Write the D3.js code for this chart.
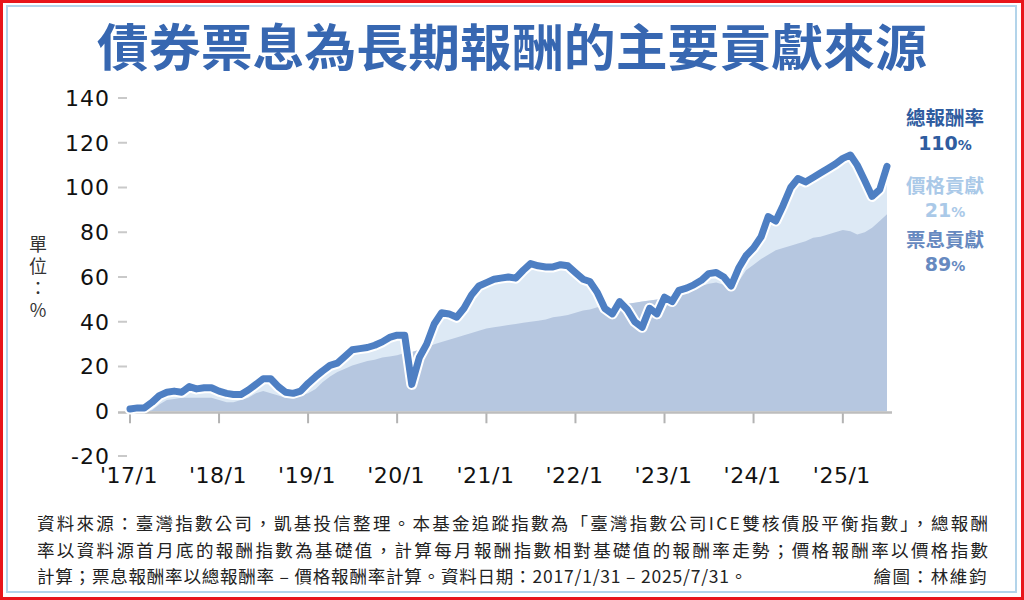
<!DOCTYPE html>
<html><head><meta charset="utf-8">
<script src="https://cdn.jsdelivr.net/npm/d3@7"></script>
<style>
html,body{margin:0;padding:0;background:#fff;}
svg{display:block;}
</style></head>
<body>
<svg id="chart" width="1024" height="600"></svg>
<script>
// ---------- data ----------
const title = "債券票息為長期報酬的主要貢獻來源";
const startYear = 2017, startMonth = 0; // first point: 2017/1
const yTicks = [-20, 0, 20, 40, 60, 80, 100, 120, 140];
const xTickLabels = ["'17/1","'18/1","'19/1","'20/1","'21/1","'22/1","'23/1","'24/1","'25/1"];
const xTickYears = [2017,2018,2019,2020,2021,2022,2023,2024,2025];
// 總報酬率 (%), monthly 2017/1 – 2025/7
const total = [
  1, 1.5, 1.5, 4, 7, 8.5, 9, 8.5, 11, 10, 10.5, 10.5,
  9, 8, 7.5, 7.5, 9.5, 12, 14.5, 14.5, 11, 8.5, 8, 9,
  12.5, 15.5, 18, 20.5, 21.5, 24.5, 27.5, 28, 28.5, 29.5, 31, 33,
  34, 34, 12, 24, 30, 39, 44, 43.5, 42, 46, 52, 56,
  57.5, 59, 59.5, 60, 59.5, 63, 66, 65, 64.5, 64.5, 65.5, 65,
  62, 59, 58, 53, 46, 43.5, 49, 45.5, 40, 37.5, 46, 43.5,
  51, 49, 54, 55, 56.5, 58.5, 61.5, 62, 60, 56, 64, 69.5,
  73, 78, 87, 85, 92, 100, 104, 102.5, 104.5, 106.5, 108.5, 110.5,
  113, 114.5, 110, 103, 96, 99, 109.5
];
// 票息貢獻 (%)
const coupon = [
  0, 0, 0, 0.5, 3, 5, 5.5, 6, 6, 6, 6, 6,
  5, 4, 4, 5, 6, 8, 9, 8, 7, 6, 6, 7,
  8, 10, 13, 15.5, 17.5, 19, 20.5, 21.5, 22.5, 23, 24, 24.5,
  25, 26, 26.5, 27.5, 28.5, 30, 31, 32, 33, 34, 35, 36,
  37, 37.5, 38, 38.5, 39, 39.5, 40, 40.5, 41, 42, 42.5, 43,
  44, 45, 45.5, 46.5, 46.5, 47, 47.5, 48, 48.5, 49, 49.5, 50,
  51, 52, 53, 54, 55, 56, 57, 57.5, 56.5, 55, 58, 63,
  65.5, 68, 70, 72, 73, 74, 75, 76, 77.5, 78, 79, 80,
  81, 80.5, 79, 80, 82, 85, 88
];
const legendItems = [
  {name: "總報酬率", value: "110", color: "#2f5c9f"},
  {name: "價格貢獻", value: "21",  color: "#aac9e8"},
  {name: "票息貢獻", value: "89",  color: "#6689c0"}
];
const unitLabel = "單位：%";
const footerLines = [
  "資料來源：臺灣指數公司，凱基投信整理。本基金追蹤指數為「臺灣指數公司ICE雙核債股平衡指數」，總報酬",
  "率以資料源首月底的報酬指數為基礎值，計算每月報酬指數相對基礎值的報酬率走勢；價格報酬率以價格指數",
  "計算；票息報酬率以總報酬率 – 價格報酬率計算。資料日期：2017/1/31 – 2025/7/31。"
];
const credit = "繪圖：林維鈞";

// ---------- drawing ----------
const svg = d3.select("#chart");
const CJK = "'Noto Sans CJK TC','Noto Sans CJK SC',sans-serif";
const NUM = "'DejaVu Sans',sans-serif";

// frames
svg.append("rect").attr("x",1.5).attr("y",1.5).attr("width",1021).attr("height",597)
  .attr("fill","none").attr("stroke","#e8161b").attr("stroke-width",3);
svg.append("rect").attr("x",7).attr("y",6).attr("width",1009).attr("height",586)
  .attr("fill","none").attr("stroke","#b3d4ea").attr("stroke-width",2);

// title
svg.append("text").attr("x",512).attr("y",66).attr("text-anchor","middle")
  .attr("font-family",CJK).attr("font-weight",700).attr("font-size",50)
  .attr("fill","#3767b1").attr("textLength",830).attr("lengthAdjust","spacingAndGlyphs")
  .text(title);

const data = total.map((t,i)=>({date:new Date(startYear, startMonth+i, 1), total:t, coupon:coupon[i]}));

const x = d3.scaleTime()
  .domain([new Date(startYear,0,1), data[data.length-1].date])
  .range([130, 887]);
const y = d3.scaleLinear().domain([-20,140]).range([456,98]);

// y axis labels and small dashes
const yG = svg.append("g");
yG.selectAll("text").data(yTicks).join("text")
  .attr("x",110).attr("y",d=>y(d)).attr("dy","0.36em").attr("text-anchor","end")
  .attr("font-family",NUM).attr("font-size",22).attr("letter-spacing",1).attr("fill","#111")
  .text(d=>d);
yG.selectAll("line").data(yTicks.filter(d=>d!==0)).join("line")
  .attr("x1",118).attr("x2",127).attr("y1",d=>y(d)).attr("y2",d=>y(d))
  .attr("stroke","#c9c9c9").attr("stroke-width",2);

// unit label (vertical writing, single text)
svg.append("text").attr("x",38).attr("y",235)
  .style("writing-mode","vertical-rl").style("text-orientation","upright")
  .attr("font-family",CJK).attr("font-size",18).attr("letter-spacing",4).attr("fill","#333")
  .text(unitLabel);

// areas
const lightArea = d3.area().x(d=>x(d.date)).y0(y(0)).y1(d=>y(Math.max(d.total,d.coupon)));
const darkArea = d3.area().x(d=>x(d.date)).y0(y(0)).y1(d=>y(d.coupon));
svg.append("path").datum(data).attr("d",lightArea).attr("fill","#dde9f5");
svg.append("path").datum(data).attr("d",darkArea).attr("fill","#b6c7e0");

// baseline
svg.append("line").attr("x1",118).attr("x2",892).attr("y1",y(0)+1.2).attr("y2",y(0)+1.2)
  .attr("stroke","#bdbdbd").attr("stroke-width",2.4);

// x ticks + labels
const xTicks = xTickYears.map(yr=>new Date(yr,0,1));
svg.append("g").selectAll("line").data(xTicks).join("line")
  .attr("x1",d=>x(d)).attr("x2",d=>x(d)).attr("y1",y(0)+2).attr("y2",y(0)+12)
  .attr("stroke","#b3b3b3").attr("stroke-width",2);
svg.append("g").selectAll("text").data(xTicks).join("text")
  .attr("x",d=>x(d)-1).attr("y",483).attr("text-anchor","middle")
  .attr("font-family",NUM).attr("font-size",22).attr("letter-spacing",0.5).attr("fill","#111")
  .text((d,i)=>xTickLabels[i]);

// total line with white halo
const line = d3.line().x(d=>x(d.date)).y(d=>y(d.total)).curve(d3.curveLinear);
svg.append("path").datum(data).attr("d",line).attr("fill","none")
  .attr("stroke","#fff").attr("stroke-width",11).attr("stroke-linejoin","round").attr("stroke-linecap","round");
svg.append("path").datum(data).attr("d",line).attr("fill","none")
  .attr("stroke","#4e7fc3").attr("stroke-width",7).attr("stroke-linejoin","round").attr("stroke-linecap","round");

// legend
const legY = [[125,150],[193,217],[247,271]];
legendItems.forEach((it,i)=>{
  svg.append("text").attr("x",945).attr("y",legY[i][0]).attr("text-anchor","middle")
    .attr("font-family",CJK).attr("font-weight",700).attr("font-size",19.5).attr("fill",it.color)
    .text(it.name);
  const t = svg.append("text").attr("x",945).attr("y",legY[i][1]).attr("text-anchor","middle")
    .attr("font-family",NUM).attr("font-weight",700).attr("font-size",19).attr("fill",it.color);
  t.append("tspan").text(it.value);
  t.append("tspan").attr("font-size",14).text("%");
});

// footer
svg.append("g").selectAll("text").data(footerLines).join("text")
  .attr("x",37).attr("y",(d,i)=>[530,557,583][i])
  .attr("font-family",CJK).attr("font-size",17.5).attr("fill","#222")
  .each(function(d,i){ if(i<2) d3.select(this).attr("textLength",951).attr("lengthAdjust","spacing"); else d3.select(this).attr("letter-spacing",0.8); })
  .text(d=>d);
svg.append("text").attr("x",988).attr("y",583).attr("text-anchor","end")
  .attr("font-family",CJK).attr("font-size",17.5).attr("fill","#222").attr("letter-spacing",1.6)
  .text(credit);
</script>
</body></html>
